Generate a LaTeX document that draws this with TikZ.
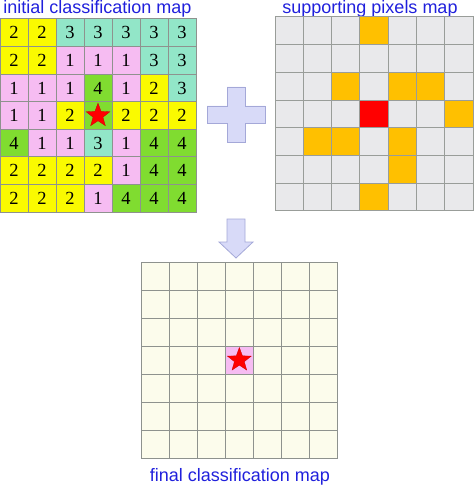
\documentclass[tikz,border=0pt]{standalone}
\usepackage{fontspec}
\setmainfont{Liberation Serif}
\setsansfont{Liberation Sans}
\usetikzlibrary{shapes.geometric}
\definecolor{cyel}{HTML}{FAFA00}
\definecolor{cteal}{HTML}{92E6C8}
\definecolor{cpink}{HTML}{F6BCF2}
\definecolor{cgreen}{HTML}{80DC30}
\definecolor{cgrid}{HTML}{8E928E}
\definecolor{corange}{HTML}{FFC000}
\definecolor{cred}{HTML}{FF0000}
\definecolor{clgray}{HTML}{E9E9EB}
\definecolor{ccream}{HTML}{FCFCEC}
\definecolor{cblue}{HTML}{2020DC}
\definecolor{cplus}{HTML}{D8DAF8}
\definecolor{cplusb}{HTML}{A4A8D8}
\tikzset{
  cellL/.style={draw=cgrid, line width=1pt, minimum width=28pt, minimum height=27.6pt, inner sep=0pt, outer sep=0pt, font=\fontsize{18.5}{18.5}\selectfont},
  cellR/.style={draw=cgrid!90, line width=1pt, minimum width=28.3pt, minimum height=27.7pt, inner sep=0pt, outer sep=0pt},
  cellB/.style={draw=cgrid, line width=1pt, fill=ccream, minimum width=28.1pt, minimum height=28pt, inner sep=0pt, outer sep=0pt},
  title/.style={text=cblue, font=\sffamily\fontsize{18}{18}\selectfont, anchor=base, inner sep=0pt},
  redstar/.style={star, star points=5, star point ratio=2.4, fill=cred, draw=cred!80!black, line width=0.3pt, minimum size=25pt, inner sep=0pt},
  bigshape/.style={fill=cplus, draw=cplusb, line width=0.8pt},
}
\begin{document}
\begin{tikzpicture}[x=1pt,y=-1pt]
\useasboundingbox (0,0) rectangle (474,486);
% titles
\node[title] (t1) at (97.5,14) {initial classification map};
\node[title] (t2) at (370,14) {supporting pixels map};
\node[title] (t3) at (240,481) {final classification map};
% left grid
\foreach \row [count=\r] in {{2,2,3,3,3,3,3},{2,2,1,1,1,3,3},{1,1,1,4,1,2,3},{1,1,2,0,2,2,2},{4,1,1,3,1,4,4},{2,2,2,2,1,4,4},{2,2,2,1,4,4,4}}{
  \foreach \v [count=\c] in \row {
    \ifcase\v \def\fc{cgreen}\or \def\fc{cpink}\or \def\fc{cyel}\or \def\fc{cteal}\or \def\fc{cgreen}\fi
    \ifnum\v=0
      \node[cellL, fill=\fc] (L-\r-\c) at ({14+28*(\c-1)},{19+13.8+27.6*(\r-1)}) {};
    \else
      \node[cellL, fill=\fc] (L-\r-\c) at ({14+28*(\c-1)},{19+13.8+27.6*(\r-1)}) {\v};
    \fi
  }
}
\node[redstar] (s1) at (L-4-4) {};
% right grid
\foreach \row [count=\r] in {{0,0,0,1,0,0,0},{0,0,0,0,0,0,0},{0,0,1,0,1,1,0},{0,0,0,2,0,0,1},{0,1,1,0,1,0,0},{0,0,0,0,1,0,0},{0,0,0,1,0,0,0}}{
  \foreach \v [count=\c] in \row {
    \ifcase\v \def\fc{clgray}\or \def\fc{corange}\or \def\fc{cred}\fi
    \node[cellR, fill=\fc] (R-\r-\c) at ({275+14.15+28.3*(\c-1)},{17+13.85+27.7*(\r-1)}) {};
  }
}
% bottom grid
\foreach \r in {1,...,7}{
  \foreach \c in {1,...,7}{
    \node[cellB] (B-\r-\c) at ({141+14.05+28.1*(\c-1)},{262+14+28*(\r-1)}) {};
  }
}
\node[cellB, fill=cpink] (B-center) at (B-4-4) {};
\node[redstar] (s2) at (B-4-4) {};
% plus sign
\draw[bigshape] (227,87) -- (245,87) -- (245,106) -- (265,106) -- (265,123) -- (245,123) -- (245,142) -- (227,142) -- (227,123) -- (207,123) -- (207,106) -- (227,106) -- cycle;
% down arrow
\draw[bigshape] (227,219) -- (245,219) -- (245,242) -- (253,242) -- (236,258) -- (219,242) -- (227,242) -- cycle;
\end{tikzpicture}
\end{document}
